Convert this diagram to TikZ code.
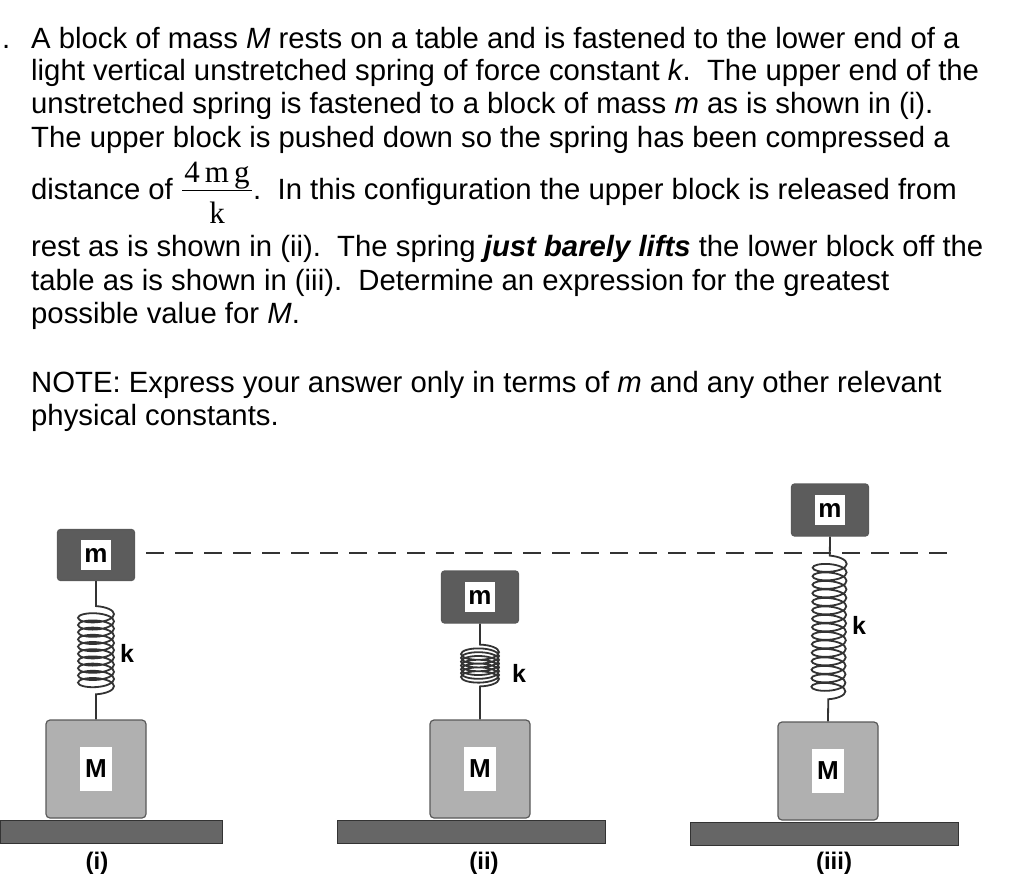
\documentclass[tikz,border=0pt]{standalone}
\usepackage{fontspec}
\setmainfont{Liberation Sans}
\newfontfamily\serifx{Liberation Serif}
\usetikzlibrary{decorations.pathmorphing}
\begin{document}
\begin{tikzpicture}[x=1pt,y=-1pt,
  txt/.style={anchor=base west,inner sep=0pt,font=\fontsize{29.3}{34}\selectfont},
  lbl/.style={font=\fontsize{24}{28}\selectfont\bfseries,inner sep=0pt},
  klbl/.style={font=\fontsize{25}{28}\selectfont\bfseries,inner sep=0pt},
  small/.style={draw=gray!70!black,fill=gray!72!black,rounded corners=3pt,line width=1.2pt,inner sep=0pt},
  big/.style={draw=gray!70!black,fill=gray!62,rounded corners=4pt,line width=1.2pt,inner sep=0pt},
  tag/.style={fill=white,inner sep=3pt,font=\fontsize{26}{28}\selectfont\bfseries},
  table/.style={draw=black!80,fill=gray!80!black,line width=1pt},
  spr/.style={draw=gray!40!black,line width=1.8pt,decorate}]
\useasboundingbox (0,0) rectangle (1018,887);
% text
\node[txt] (l0) at (2,48) {.};
\node[txt] (l1) at (31,48) {A block of mass \textit{M} rests on a table and is fastened to the lower end of a};
\node[txt] (l2) at (31,80) {light vertical unstretched spring of force constant \textit{k}.\ \ The upper end of the};
\node[txt] (l3) at (31,113) {unstretched spring is fastened to a block of mass \textit{m} as is shown in (i).};
\node[txt] (l4) at (31,147) {The upper block is pushed down so the spring has been compressed a};
\node[txt] (l5) at (31,199) {distance of};
\node[anchor=base,inner sep=0pt,font=\serifx\fontsize{31}{34}\selectfont] (num) at (217,182) {4\,m\,g};
\draw[line width=0.9pt] (182,190) -- (252,190);
\node[anchor=base,inner sep=0pt,font=\serifx\fontsize{31}{34}\selectfont] (den) at (217,223) {k};
\node[txt] (l5b) at (253,199) {.\ \ In this configuration the upper block is released from};
\node[txt] (l6) at (31,256) {rest as is shown in (ii).\ \ The spring \textbf{\textit{just barely lifts}} the lower block off the};
\node[txt] (l7) at (31,290) {table as is shown in (iii).\ \ Determine an expression for the greatest};
\node[txt] (l8) at (31,323) {possible value for \textit{M}.};
\node[txt] (n1) at (31,392) {NOTE: Express your answer only in terms of \textit{m} and any other relevant};
\node[txt] (n2) at (31,425) {physical constants.};
% dashed line
\draw[gray!40!black,line width=1.3pt,dash pattern=on 18pt off 11pt] (146,553) -- (950,553);
% (i)
\draw[table] (0,820) rectangle (222,843);
\node[big,minimum width=100pt,minimum height=98pt] (Mi) at (96,769) {};
\node[tag,minimum width=32pt,minimum height=44pt] at (Mi) {M};
\node[small,minimum width=77pt,minimum height=51pt] (mi) at (96,555) {};
\node[tag,minimum width=28pt,minimum height=30pt] at (mi) {m};
\draw[spr,decoration={coil,segment length=7.2pt,amplitude=18pt,aspect=0.35,pre length=25pt,post length=23pt}] (mi.south) -- (Mi.north);
\node[klbl] (ki) at (127,653) {k};
\node[lbl] (ci) at (97,863) {(i)};
% (ii)
\draw[table] (337,820) rectangle (605,843);
\node[big,minimum width=100pt,minimum height=98pt] (Mii) at (480,769) {};
\node[tag,minimum width=32pt,minimum height=44pt] at (Mii) {M};
\node[small,minimum width=77pt,minimum height=52pt] (mii) at (480,597) {};
\node[tag,minimum width=28pt,minimum height=30pt] at (mii) {m};
\draw[spr,decoration={coil,segment length=3.8pt,amplitude=19pt,aspect=0.35,pre length=21pt,post length=30pt}] (mii.south) -- (Mii.north);
\node[klbl] (kii) at (519,673) {k};
\node[lbl] (cii) at (484,863) {(ii)};
% (iii)
\draw[table] (690,822) rectangle (958,845);
\node[big,minimum width=100pt,minimum height=98pt] (Miii) at (828,771) {};
\node[tag,minimum width=32pt,minimum height=44pt] at (Miii) {M};
\node[small,minimum width=77pt,minimum height=52pt] (miii) at (830,510) {};
\node[tag,minimum width=28pt,minimum height=30pt] at (miii) {m};
\draw[spr,decoration={coil,segment length=8.5pt,amplitude=17pt,aspect=0.35,pre length=19pt,post length=22pt}] (miii.south) -- (Miii.north);
\node[klbl] (kiii) at (859,625) {k};
\node[lbl] (ciii) at (834,863) {(iii)};
\end{tikzpicture}
\end{document}
